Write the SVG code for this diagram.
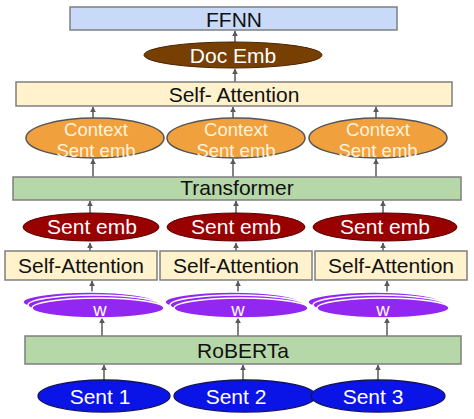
<svg xmlns="http://www.w3.org/2000/svg" width="474" height="419" viewBox="0 0 474 419">
<style>
text{font-family:"Liberation Sans",Arial,sans-serif;text-anchor:middle}
.box{stroke:#7f7f7f;stroke-width:1.5}
.blue{fill:#c9daf8}
.cream{fill:#fff2cc}
.green{fill:#b6d7a8}
.t21{font-size:21px;fill:#111}
.w{font-size:18.5px;fill:#fff2dc}
.ww{font-size:18.5px;fill:#fff}
.wl{font-size:21px;fill:#fff}
.ctx{fill:#f0a13e;stroke:#555;stroke-width:1.5}
.se{fill:#990000;stroke:#5a0000;stroke-width:1}
.pur{fill:#9227f2;stroke:#fff;stroke-width:1.5}
.sn{fill:#0a14e6;stroke:#14145a;stroke-width:1.3}
.ar{stroke:#595959;stroke-width:1.5;fill:none;marker-end:url(#ah)}
</style>
<defs>
<marker id="ah" viewBox="0 0 10 10" refX="9" refY="5" markerWidth="4" markerHeight="4" orient="auto">
<path d="M0,0 L10,5 L0,10 z" fill="#595959"/>
</marker>
</defs>
<rect width="474" height="419" fill="#fff"/>
<g id="connectors">
<line class="ar" x1="235" y1="42" x2="235" y2="31"/>
<line class="ar" x1="235" y1="82" x2="235" y2="69"/>
<line class="ar" x1="93" y1="118" x2="93" y2="107"/>
<line class="ar" x1="233" y1="118" x2="233" y2="107"/>
<line class="ar" x1="376" y1="118" x2="376" y2="107"/>
<line class="ar" x1="93" y1="177" x2="93" y2="159"/>
<line class="ar" x1="233" y1="177" x2="233" y2="159"/>
<line class="ar" x1="376" y1="177" x2="376" y2="159"/>
<line class="ar" x1="90" y1="213" x2="90" y2="201"/>
<line class="ar" x1="236" y1="213" x2="236" y2="201"/>
<line class="ar" x1="383" y1="213" x2="383" y2="201"/>
<line class="ar" x1="90" y1="251" x2="90" y2="243"/>
<line class="ar" x1="236" y1="251" x2="236" y2="243"/>
<line class="ar" x1="383" y1="251" x2="383" y2="243"/>
<line class="ar" x1="92" y1="294" x2="92" y2="281"/>
<line class="ar" x1="238" y1="294" x2="238" y2="281"/>
<line class="ar" x1="387" y1="294" x2="387" y2="281"/>
<line class="ar" x1="102" y1="336" x2="102" y2="318"/>
<line class="ar" x1="238" y1="336" x2="238" y2="318"/>
<line class="ar" x1="387" y1="336" x2="387" y2="318"/>
<line class="ar" x1="104" y1="380" x2="104" y2="365"/>
<line class="ar" x1="243" y1="380" x2="243" y2="365"/>
<line class="ar" x1="378" y1="380" x2="378" y2="365"/>
</g>
<g id="ffnn"><rect class="box blue" x="70" y="7" width="327" height="23"/><text class="t21" x="234" y="27">FFNN</text></g>
<g id="docemb"><ellipse cx="233" cy="55" rx="89" ry="13" fill="#783f04" stroke="#4a2500"/><text class="wl" x="233" y="63" fill="#fff">Doc Emb</text></g>
<g id="selfatt-top"><rect class="box cream" x="16" y="82" width="436" height="24"/><text class="t21" x="234" y="102">Self- Attention</text></g>
<g id="ctx1"><ellipse class="ctx" cx="95" cy="138" rx="69" ry="20"/><text class="w" x="96" y="136">Context</text><text class="w" x="96" y="157">Sent emb</text></g>
<g id="ctx2"><ellipse class="ctx" cx="236" cy="138" rx="69" ry="20"/><text class="w" x="236" y="136">Context</text><text class="w" x="236" y="157">Sent emb</text></g>
<g id="ctx3"><ellipse class="ctx" cx="378" cy="138" rx="69" ry="20"/><text class="w" x="378" y="136">Context</text><text class="w" x="378" y="157">Sent emb</text></g>
<g id="transformer"><rect class="box green" x="13" y="177" width="448" height="23"/><text class="t21" x="237" y="195">Transformer</text></g>
<g id="se1"><ellipse class="se" cx="91" cy="227" rx="68" ry="14"/><text class="wl" x="92" y="234">Sent emb</text></g>
<g id="se2"><ellipse class="se" cx="236" cy="227" rx="69" ry="14"/><text class="wl" x="236" y="234">Sent emb</text></g>
<g id="se3"><ellipse class="se" cx="385" cy="227" rx="72" ry="14"/><text class="wl" x="385" y="234">Sent emb</text></g>
<g id="sa1"><rect class="box cream" x="5" y="251" width="152" height="29"/><text class="t21" x="81" y="273">Self-Attention</text></g>
<g id="sa2"><rect class="box cream" x="160" y="251" width="152" height="29"/><text class="t21" x="236" y="273">Self-Attention</text></g>
<g id="sa3"><rect class="box cream" x="315" y="251" width="152" height="29"/><text class="t21" x="391" y="273">Self-Attention</text></g>
<g id="w1"><ellipse class="pur" cx="89" cy="302" rx="66" ry="10"/><ellipse class="pur" cx="94" cy="305" rx="66" ry="10"/><ellipse class="pur" cx="98" cy="308" rx="66" ry="10"/><text class="ww" x="100" y="316">w</text></g>
<g id="w2"><ellipse class="pur" cx="232" cy="302" rx="67" ry="10"/><ellipse class="pur" cx="237" cy="305" rx="67" ry="10"/><ellipse class="pur" cx="241" cy="308" rx="67" ry="10"/><text class="ww" x="238" y="316">w</text></g>
<g id="w3"><ellipse class="pur" cx="374" cy="302" rx="66" ry="10"/><ellipse class="pur" cx="379" cy="305" rx="66" ry="10"/><ellipse class="pur" cx="383" cy="308" rx="66" ry="10"/><text class="ww" x="383" y="316">w</text></g>
<g id="roberta"><rect class="box green" x="25" y="336" width="436" height="28"/><text class="t21" x="243" y="358">RoBERTa</text></g>
<g id="s1"><ellipse class="sn" cx="104" cy="396" rx="66" ry="16"/><text class="wl" x="100" y="404" font-size="20">Sent 1</text></g>
<g id="s2"><ellipse class="sn" cx="245" cy="396" rx="71" ry="16"/><text class="wl" x="236" y="404">Sent 2</text></g>
<g id="s3"><ellipse class="sn" cx="378" cy="396" rx="67" ry="16"/><text class="wl" x="373" y="404">Sent 3</text></g>
</svg>
